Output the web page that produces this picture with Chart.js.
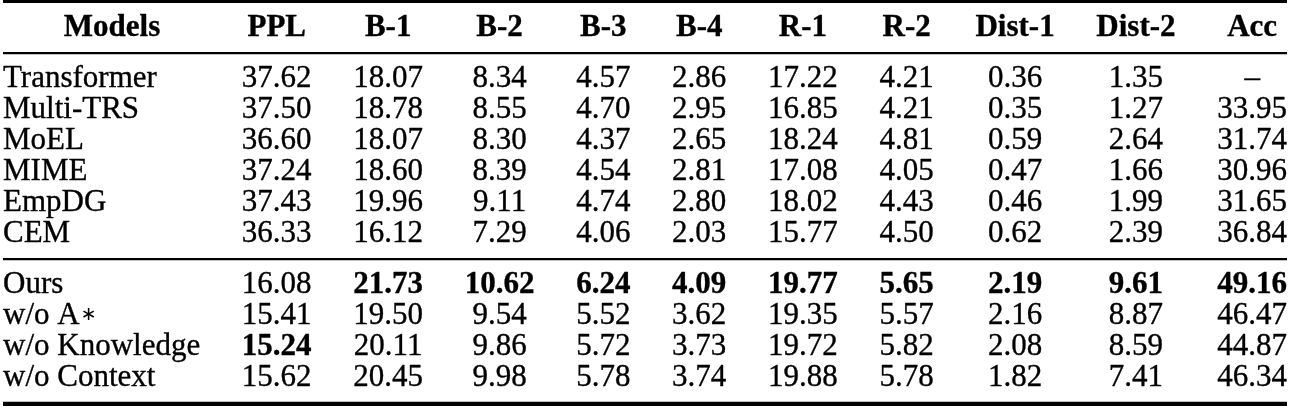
<!DOCTYPE html>
<html>
<head>
<meta charset="utf-8">
<title>Results table</title>
<script src="https://cdn.jsdelivr.net/npm/chart.js@4.4.1/dist/chart.umd.min.js"></script>
<style>
    html, body { margin: 0; padding: 0; background: #fff; }
    #wrap { position: relative; width: 1291px; height: 408px; }
</style>
</head>
<body>
<div id="wrap"><canvas id="table"></canvas></div>
<script>
// column headers
var headers = ['Models', 'PPL', 'B-1', 'B-2', 'B-3', 'B-4', 'R-1', 'R-2', 'Dist-1', 'Dist-2', 'Acc'];

// rows: baselines, then our model and its ablations
var baselineModels = ['Transformer', 'Multi-TRS', 'MoEL', 'MIME', 'EmpDG', 'CEM'];
var oursModels = ['Ours', 'w/o A\u2217', 'w/o Knowledge', 'w/o Context'];

var ppl    = [37.62, 37.50, 36.60, 37.24, 37.43, 36.33, 16.08, 15.41, 15.24, 15.62];
var bleu1  = [18.07, 18.78, 18.07, 18.60, 19.96, 16.12, 21.73, 19.50, 20.11, 20.45];
var bleu2  = [8.34, 8.55, 8.30, 8.39, 9.11, 7.29, 10.62, 9.54, 9.86, 9.98];
var bleu3  = [4.57, 4.70, 4.37, 4.54, 4.74, 4.06, 6.24, 5.52, 5.72, 5.78];
var bleu4  = [2.86, 2.95, 2.65, 2.81, 2.80, 2.03, 4.09, 3.62, 3.73, 3.74];
var rouge1 = [17.22, 16.85, 18.24, 17.08, 18.02, 15.77, 19.77, 19.35, 19.72, 19.88];
var rouge2 = [4.21, 4.21, 4.81, 4.05, 4.43, 4.50, 5.65, 5.57, 5.82, 5.78];
var dist1  = [0.36, 0.35, 0.59, 0.47, 0.46, 0.62, 2.19, 2.16, 2.08, 1.82];
var dist2  = [1.35, 1.27, 2.64, 1.66, 1.99, 2.39, 9.61, 8.87, 8.59, 7.41];
var acc    = [null, 33.95, 31.74, 30.96, 31.65, 36.84, 49.16, 46.47, 44.87, 46.34];

// cells printed in bold (row index per column)
var boldCells = {
    'PPL': [8], 'B-1': [6], 'B-2': [6], 'B-3': [6], 'B-4': [6],
    'R-1': [6], 'R-2': [6], 'Dist-1': [6], 'Dist-2': [6], 'Acc': [6]
};

var models = baselineModels.concat(oursModels);
var metrics = [ppl, bleu1, bleu2, bleu3, bleu4, rouge1, rouge2, dist1, dist2, acc];

// --- layout (like LaTeX: column width = widest cell + column separation) ---
var FONT = '"Liberation Serif", "Times New Roman", serif';
var SIZE = 31;
var AST_FONT = '19px "DejaVu Sans", sans-serif';
var W = 1291, H = 408;
var TABLE_LEFT = 3, TABLE_RIGHT = 1287;

var measureCtx = document.createElement('canvas').getContext('2d');
function fontFor(bold) { return (bold ? 'bold ' : '') + SIZE + 'px ' + FONT; }
function textWidth(s, bold) {
    measureCtx.font = fontFor(bold);
    return measureCtx.measureText(s).width;
}
function cellText(v) { return v === null ? '\u2013' : v.toFixed(2); }
function isBold(col, row) {
    var list = boldCells[headers[col]];
    return !!list && list.indexOf(row) >= 0;
}

var colWidths = [Math.max.apply(null, models.map(function(m) { return textWidth(m, false); }))];
metrics.forEach(function(vals, c) {
    var w = textWidth(headers[c + 1], true);
    vals.forEach(function(v, r) { w = Math.max(w, textWidth(cellText(v), isBold(c + 1, r))); });
    colWidths.push(w);
});
var contentWidth = colWidths.reduce(function(a, b) { return a + b; }, 0);
var sep = (TABLE_RIGHT - TABLE_LEFT - contentWidth) / (2 * metrics.length);

// column centres in x-scale units
var colCenters = [];
var cursor = TABLE_LEFT + colWidths[0] + sep;
colCenters.push(TABLE_LEFT + (colWidths[0] + sep) / 2);
for (var c = 1; c < colWidths.length; c++) {
    cursor += sep;
    colCenters.push(cursor + colWidths[c] / 2);
    cursor += colWidths[c] + sep;
}

// row baselines in y-scale units (one unit = one line of text)
var GROUP_GAP = 1.645;
var RULE_BELOW = 0.55;
var rowPos = [];
var pos = 0;
models.forEach(function(m, i) {
    pos += (i === 0 || i === baselineModels.length) ? GROUP_GAP : 1;
    rowPos.push(pos);
});
var rules = [
    { at: -1.13, width: 4 },
    { at: RULE_BELOW, width: 2.3 },
    { at: rowPos[baselineModels.length - 1] + RULE_BELOW, width: 2.3 },
    { at: rowPos[rowPos.length - 1] + 0.58, width: 4.2 }
];

// --- datasets: one per column, one point per cell ---
var datasets = [{
    label: headers[0],
    data: models.map(function(m, r) { return { x: TABLE_LEFT, y: rowPos[r], text: m, bold: false }; }),
    align: 'left'
}];
metrics.forEach(function(vals, c) {
    datasets.push({
        label: headers[c + 1],
        data: vals.map(function(v, r) {
            return { x: colCenters[c + 1], y: rowPos[r], text: cellText(v), bold: isBold(c + 1, r) };
        }),
        align: 'center'
    });
});
datasets.forEach(function(ds) { ds.pointRadius = 0; ds.showLine = false; });

// text with a slightly heavier stroke, and the math asterisk set smaller
function drawCell(ctx, text, x, y, bold, align) {
    ctx.font = fontFor(bold);
    ctx.textAlign = align;
    var star = text.indexOf('\u2217');
    if (star >= 0 && align === 'left') {
        var head = text.slice(0, star);
        ctx.fillText(head, x, y);
        ctx.strokeText(head, x, y);
        var hx = x + ctx.measureText(head).width + 1;
        ctx.font = AST_FONT;
        ctx.fillText('\u2217', hx, y - 4);
        return;
    }
    ctx.fillText(text, x, y);
    ctx.strokeText(text, x, y);
}

var tablePlugin = {
    id: 'tableText',
    afterDatasetsDraw: function(chart) {
        var ctx = chart.ctx;
        var xs = chart.scales.x, ys = chart.scales.y;
        ctx.save();
        ctx.fillStyle = '#000';
        ctx.strokeStyle = '#000';
        ctx.textBaseline = 'alphabetic';

        // rules
        rules.forEach(function(rule) {
            var y = ys.getPixelForValue(rule.at);
            ctx.lineWidth = rule.width;
            ctx.beginPath();
            ctx.moveTo(xs.getPixelForValue(TABLE_LEFT), y);
            ctx.lineTo(xs.getPixelForValue(TABLE_RIGHT), y);
            ctx.stroke();
        });

        ctx.lineWidth = 0.35;
        ctx.lineJoin = 'round';

        // header row
        headers.forEach(function(h, c) {
            drawCell(ctx, h, xs.getPixelForValue(colCenters[c]), ys.getPixelForValue(0), true, 'center');
        });

        // body cells
        chart.data.datasets.forEach(function(ds, i) {
            var meta = chart.getDatasetMeta(i);
            meta.data.forEach(function(pt, j) {
                var cell = ds.data[j];
                drawCell(ctx, cell.text, pt.x, pt.y, cell.bold, ds.align);
            });
        });
        ctx.restore();
    }
};

new Chart(document.getElementById('table'), {
    type: 'scatter',
    data: { datasets: datasets },
    options: {
        responsive: true,
        maintainAspectRatio: false,
        animation: false,
        layout: { padding: 0 },
        plugins: { legend: { display: false }, tooltip: { enabled: false } },
        scales: {
            x: { type: 'linear', display: false, min: 0, max: W },
            y: { type: 'linear', display: false, reverse: true, min: -36 / 31, max: (H - 36) / 31 }
        }
    },
    plugins: [tablePlugin]
});
</script>
</body>
</html>
